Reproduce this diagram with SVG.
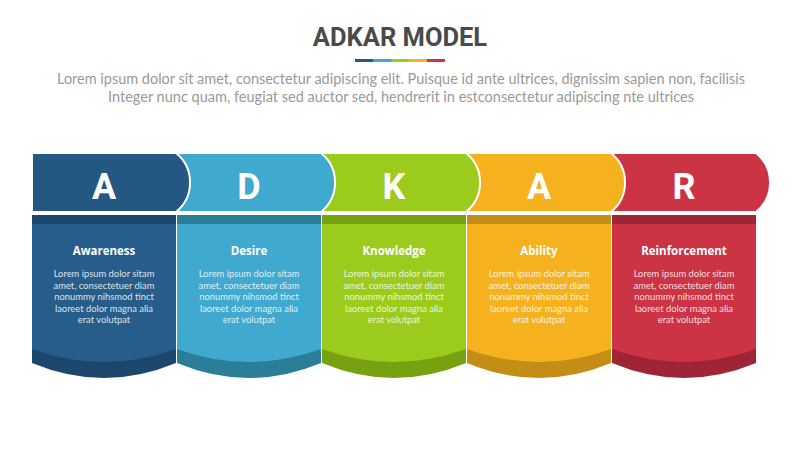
<svg xmlns="http://www.w3.org/2000/svg" width="800" height="450" viewBox="0 0 800 450">
<style>
.title{font-family:Roboto,"Liberation Sans",sans-serif;font-weight:bold;font-size:25.5px;fill:#4a4a4a;text-anchor:middle}
.sub{font-family:Lato,"Liberation Sans",sans-serif;font-size:14.5px;fill:#999;text-anchor:middle}
.letter{font-family:Roboto,"Liberation Sans",sans-serif;font-weight:bold;font-size:36px;fill:#fff;text-anchor:middle}
.head{font-family:"Open Sans","Liberation Sans",sans-serif;font-weight:bold;font-size:11.5px;fill:#fff;text-anchor:middle}
.body{font-family:Lato,"Liberation Sans",sans-serif;font-size:9.4px;fill:#fff;fill-opacity:0.85;text-anchor:middle}
.hdr{stroke:#fff;stroke-width:2}
</style>
<rect width="800" height="450" fill="#fff"/>
<text class="title" x="400" y="46">ADKAR MODEL</text>
<g id="title-bar">
<rect x="355" y="59" width="18" height="3" fill="#255a85"/>
<rect x="373" y="59" width="18" height="3" fill="#3fa9d0"/>
<rect x="391" y="59" width="18" height="3" fill="#9bcb1c"/>
<rect x="409" y="59" width="18" height="3" fill="#f5b21e"/>
<rect x="427" y="59" width="18" height="3" fill="#cc3344"/>
</g>
<text class="sub" x="401" y="84" textLength="688" lengthAdjust="spacingAndGlyphs">Lorem ipsum dolor sit amet, consectetur adipiscing elit. Puisque id ante ultrices, dignissim sapien non, facilisis</text>
<text class="sub" x="401" y="102" textLength="586" lengthAdjust="spacingAndGlyphs">Integer nunc quam, feugiat sed auctor sed, hendrerit in estconsectetur adipiscing nte ultrices</text>

<g id="node-r">
<path d="M612,215 H756 V363 Q684,393 612,363 Z" fill="#9e2535"/>
<path d="M612,224 H756 V349 Q684,375 612,349 Z" fill="#cc3344"/>
<path class="hdr" d="M612,153 H756 A38,38 0 0 1 756,212 H612 Z" fill="#cc3344"/>
<text class="letter" x="684" y="199">R</text>
<text class="head" x="684" y="255">Reinforcement</text>
<text class="body" x="684" y="277">Lorem ipsum dolor sitam</text>
<text class="body" x="684" y="288.5">amet, consectetuer diam</text>
<text class="body" x="684" y="300">nonummy  nihsmod tinct</text>
<text class="body" x="684" y="311.5">laoreet dolor magna alia</text>
<text class="body" x="684" y="323">erat volutpat</text>
</g>
<g id="node-a2">
<path d="M467,215 H611 V363 Q539,393 467,363 Z" fill="#c48d16"/>
<path d="M467,224 H611 V349 Q539,375 467,349 Z" fill="#f5b21e"/>
<path class="hdr" d="M467,153 H611 A38,38 0 0 1 611,212 H467 Z" fill="#f5b21e"/>
<text class="letter" x="539" y="199">A</text>
<text class="head" x="539" y="255">Ability</text>
<text class="body" x="539" y="277">Lorem ipsum dolor sitam</text>
<text class="body" x="539" y="288.5">amet, consectetuer diam</text>
<text class="body" x="539" y="300">nonummy  nihsmod tinct</text>
<text class="body" x="539" y="311.5">laoreet dolor magna alia</text>
<text class="body" x="539" y="323">erat volutpat</text>
</g>
<g id="node-k">
<path d="M322,215 H466 V363 Q394,393 322,363 Z" fill="#78a112"/>
<path d="M322,224 H466 V349 Q394,375 322,349 Z" fill="#9bcb1c"/>
<path class="hdr" d="M322,153 H466 A38,38 0 0 1 466,212 H322 Z" fill="#9bcb1c"/>
<text class="letter" x="394" y="199">K</text>
<text class="head" x="394" y="255">Knowledge</text>
<text class="body" x="394" y="277">Lorem ipsum dolor sitam</text>
<text class="body" x="394" y="288.5">amet, consectetuer diam</text>
<text class="body" x="394" y="300">nonummy  nihsmod tinct</text>
<text class="body" x="394" y="311.5">laoreet dolor magna alia</text>
<text class="body" x="394" y="323">erat volutpat</text>
</g>
<g id="node-d">
<path d="M177,215 H321 V363 Q249,393 177,363 Z" fill="#2b7e98"/>
<path d="M177,224 H321 V349 Q249,375 177,349 Z" fill="#3fa9d0"/>
<path class="hdr" d="M177,153 H321 A38,38 0 0 1 321,212 H177 Z" fill="#3fa9d0"/>
<text class="letter" x="249" y="199">D</text>
<text class="head" x="249" y="255">Desire</text>
<text class="body" x="249" y="277">Lorem ipsum dolor sitam</text>
<text class="body" x="249" y="288.5">amet, consectetuer diam</text>
<text class="body" x="249" y="300">nonummy  nihsmod tinct</text>
<text class="body" x="249" y="311.5">laoreet dolor magna alia</text>
<text class="body" x="249" y="323">erat volutpat</text>
</g>
<g id="node-a1">
<path d="M32,215 H176 V363 Q104,393 32,363 Z" fill="#1d466d"/>
<path d="M32,224 H176 V349 Q104,375 32,349 Z" fill="#265d8a"/>
<path class="hdr" d="M32,153 H176 A38,38 0 0 1 176,212 H32 Z" fill="#245782"/>
<text class="letter" x="104" y="199">A</text>
<text class="head" x="104" y="255">Awareness</text>
<text class="body" x="104" y="277">Lorem ipsum dolor sitam</text>
<text class="body" x="104" y="288.5">amet, consectetuer diam</text>
<text class="body" x="104" y="300">nonummy  nihsmod tinct</text>
<text class="body" x="104" y="311.5">laoreet dolor magna alia</text>
<text class="body" x="104" y="323">erat volutpat</text>
</g>
<g id="connectors"></g>
</svg>
